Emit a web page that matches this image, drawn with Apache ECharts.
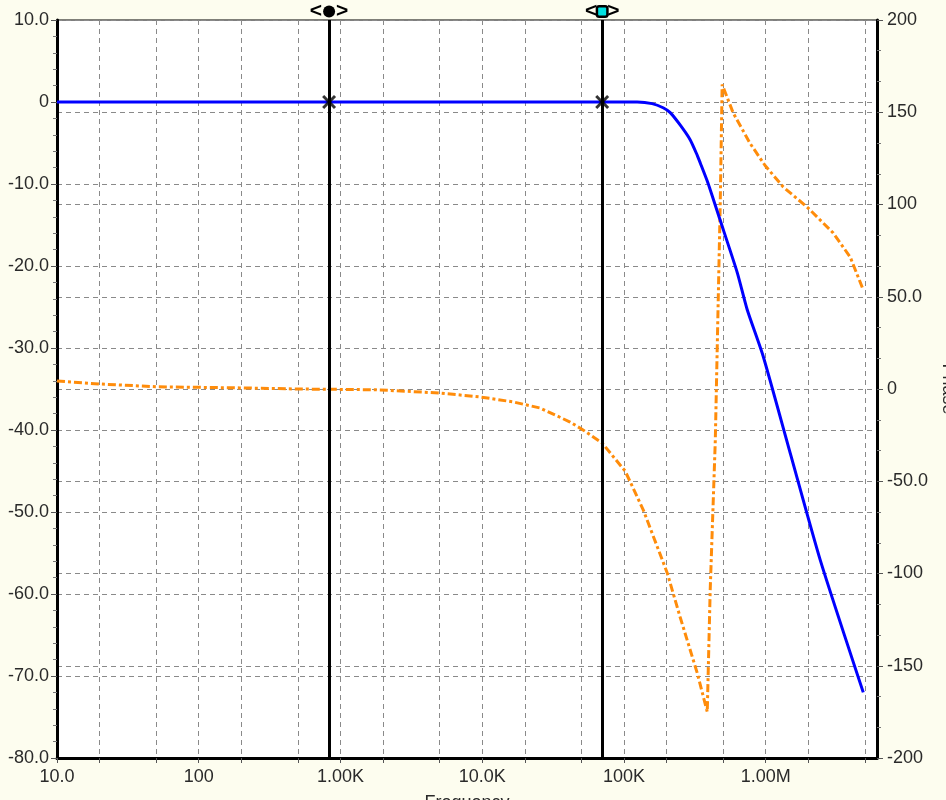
<!DOCTYPE html>
<html>
<head>
<meta charset="utf-8">
<script src="https://cdn.jsdelivr.net/npm/echarts@6/dist/echarts.min.js"></script>
<style>
html,body{margin:0;padding:0;background:#fdfdef;}
#chart{width:946px;height:800px;}
</style>
</head>
<body>
<div id="chart"></div>
<script>
// ---- data ----
const magFreq = [10, 1000, 10000, 100000, 124000, 158000, 189000, 212000, 249000, 293000, 329000, 345000, 392000, 477000, 630000, 740000, 960000, 1500000, 2430000, 4880000];
const magDb   = [0, 0, 0, 0, 0, -0.2, -0.7, -1.3, -2.8, -4.6, -6.5, -7.4, -9.9, -14.4, -20.8, -25.3, -31, -43, -55.9, -72];

const phaseFreq = [10, 20.1, 50.8, 102, 195, 502, 1290, 1902, 5045, 9660, 16500, 25600, 41700, 51500, 70200, 102000, 137000, 202000, 249000, 329000, 387000, 406000, 441000, 478000, 493000, 590000, 778000, 993000, 1330000, 1960000, 2990000, 3950000, 4880000];
const phaseDeg  = [4.3, 2.7, 1.2, 0.9, 0.6, 0, -0.3, -0.5, -2.2, -4.3, -7, -10.3, -17.9, -22.2, -29.3, -44.5, -65.6, -99.7, -123.6, -154, -175, -109, -28, 101, 165, 149.6, 133, 121, 109.5, 98.6, 84.6, 71.5, 53.7];

const cursorFreq = [831, 70200];
const cursorDb = [0, 0];

const xLabelVals = [10, 100, 1000, 10000, 100000, 1000000];
const xLabelText = ['10.0', '100', '1.00K', '10.0K', '100K', '1.00M'];
const xGridVals = [10, 20, 50, 100, 200, 500, 1000, 2000, 5000, 10000, 20000, 50000, 100000, 200000, 500000, 1000000, 2000000, 5000000];

const leftLabels = {'10': '10.0', '0': '0', '-10': '-10.0', '-20': '-20.0', '-30': '-30.0', '-40': '-40.0', '-50': '-50.0', '-60': '-60.0', '-70': '-70.0', '-80': '-80.0'};
const rightLabels = {'200': '200', '150': '150', '100': '100', '50': '50.0', '0': '0', '-50': '-50.0', '-100': '-100', '-150': '-150', '-200': '-200'};

// ---- chart ----
const chart = echarts.init(document.getElementById('chart'));
const FONT = 'Liberation Sans';
const labelStyle = {color: '#2a2a2a', fontSize: 18, fontFamily: FONT};
const gridLine = {show: true, lineStyle: {color: '#8a8a8a', width: 1, type: [5, 4]}};

const option = {
  backgroundColor: '#fdfdef',
  animation: false,
  grid: {left: 57, right: 69, top: 20, bottom: 42, containLabel: false, outerBoundsMode: 'none',
         show: true, backgroundColor: '#ffffff', borderColor: '#000', borderWidth: 1},
  xAxis: {
    type: 'log', logBase: 10, min: 10, max: 6100000,
    name: 'Frequency', nameLocation: 'middle', nameGap: 36,
    nameTextStyle: {color: '#2a2a2a', fontSize: 18, fontFamily: FONT},
    axisLine: {show: true, onZero: false, lineStyle: {color: '#000', width: 3}},
    axisTick: {show: true, inside: false, length: 5, lineStyle: {color: '#555'}, customValues: xGridVals},
    axisLabel: Object.assign({margin: 10, customValues: xLabelVals, formatter: function (v) {
      const i = xLabelVals.indexOf(v); return i >= 0 ? xLabelText[i] : '';
    }}, labelStyle),
    splitLine: gridLine
  },
  yAxis: [{
    type: 'value', min: -80, max: 10, interval: 10, position: 'left',
    axisLine: {show: true, onZero: false, lineStyle: {color: '#000', width: 3}},
    axisTick: {show: true, length: 6, lineStyle: {color: '#555'}},
    minorTick: {show: true, splitNumber: 5, length: 4, lineStyle: {color: '#777'}},
    axisLabel: Object.assign({margin: 8, formatter: function (v) { return leftLabels[String(v)] || String(v); }}, labelStyle),
    splitLine: gridLine
  }, {
    type: 'value', min: -200, max: 200, interval: 50, position: 'right',
    name: 'Phase', nameLocation: 'middle', nameGap: 54, nameRotate: -90,
    nameTextStyle: {color: '#2a2a2a', fontSize: 18, fontFamily: FONT},
    axisLine: {show: true, onZero: false, lineStyle: {color: '#000', width: 3}},
    axisTick: {show: true, length: 6, lineStyle: {color: '#555'}},
    minorTick: {show: true, splitNumber: 3, length: 4, lineStyle: {color: '#777'}},
    axisLabel: Object.assign({margin: 10, formatter: function (v) { return rightLabels[String(v)] || String(v); }}, labelStyle),
    splitLine: gridLine
  }],
  series: [{
    name: 'Phase', type: 'line', yAxisIndex: 1, showSymbol: false, symbol: 'none',
    data: phaseFreq.map((f, i) => [f, phaseDeg[i]]),
    lineStyle: {color: '#ff8c0a', width: 3, type: [8, 3, 3, 3]},
    z: 3
  }, {
    name: 'Gain', type: 'line', yAxisIndex: 0, showSymbol: false, symbol: 'none', smooth: 0.2,
    data: magFreq.map((f, i) => [f, magDb[i]]),
    lineStyle: {color: '#0000ff', width: 3},
    markLine: {
      silent: true, symbol: 'none',
      lineStyle: {color: '#000', width: 3, type: 'solid'},
      label: {
        show: true, position: 'end', distance: -2,
        formatter: function (p) {
          return p.dataIndex === 0 ? '{a|<}{dot|}{a|>}' : '{a|<}{sq|}{a|>}';
        },
        rich: {
          a: {fontSize: 21, fontWeight: 'bold', color: '#000', fontFamily: FONT, padding: [0, 1, 0, 1]},
          dot: {width: 12, height: 12, backgroundColor: '#000', borderRadius: 6},
          sq: {width: 8, height: 8, backgroundColor: '#00e0e0', borderColor: '#000', borderWidth: 2.5, borderRadius: 1}
        }
      },
      data: cursorFreq.map(f => ({xAxis: f}))
    },
    z: 4
  }, {
    name: 'Cursors', type: 'scatter', yAxisIndex: 0,
    symbol: 'path://M1.5,0L5,3.5L8.5,0L10,1.5L6.5,5L10,8.5L8.5,10L5,6.5L1.5,10L0,8.5L3.5,5L0,1.5Z',
    symbolSize: 14,
    itemStyle: {color: '#000'},
    data: cursorFreq.map((f, i) => [f, cursorDb[i]]),
    z: 6
  }]
};
chart.setOption(option);
</script>
</body>
</html>
